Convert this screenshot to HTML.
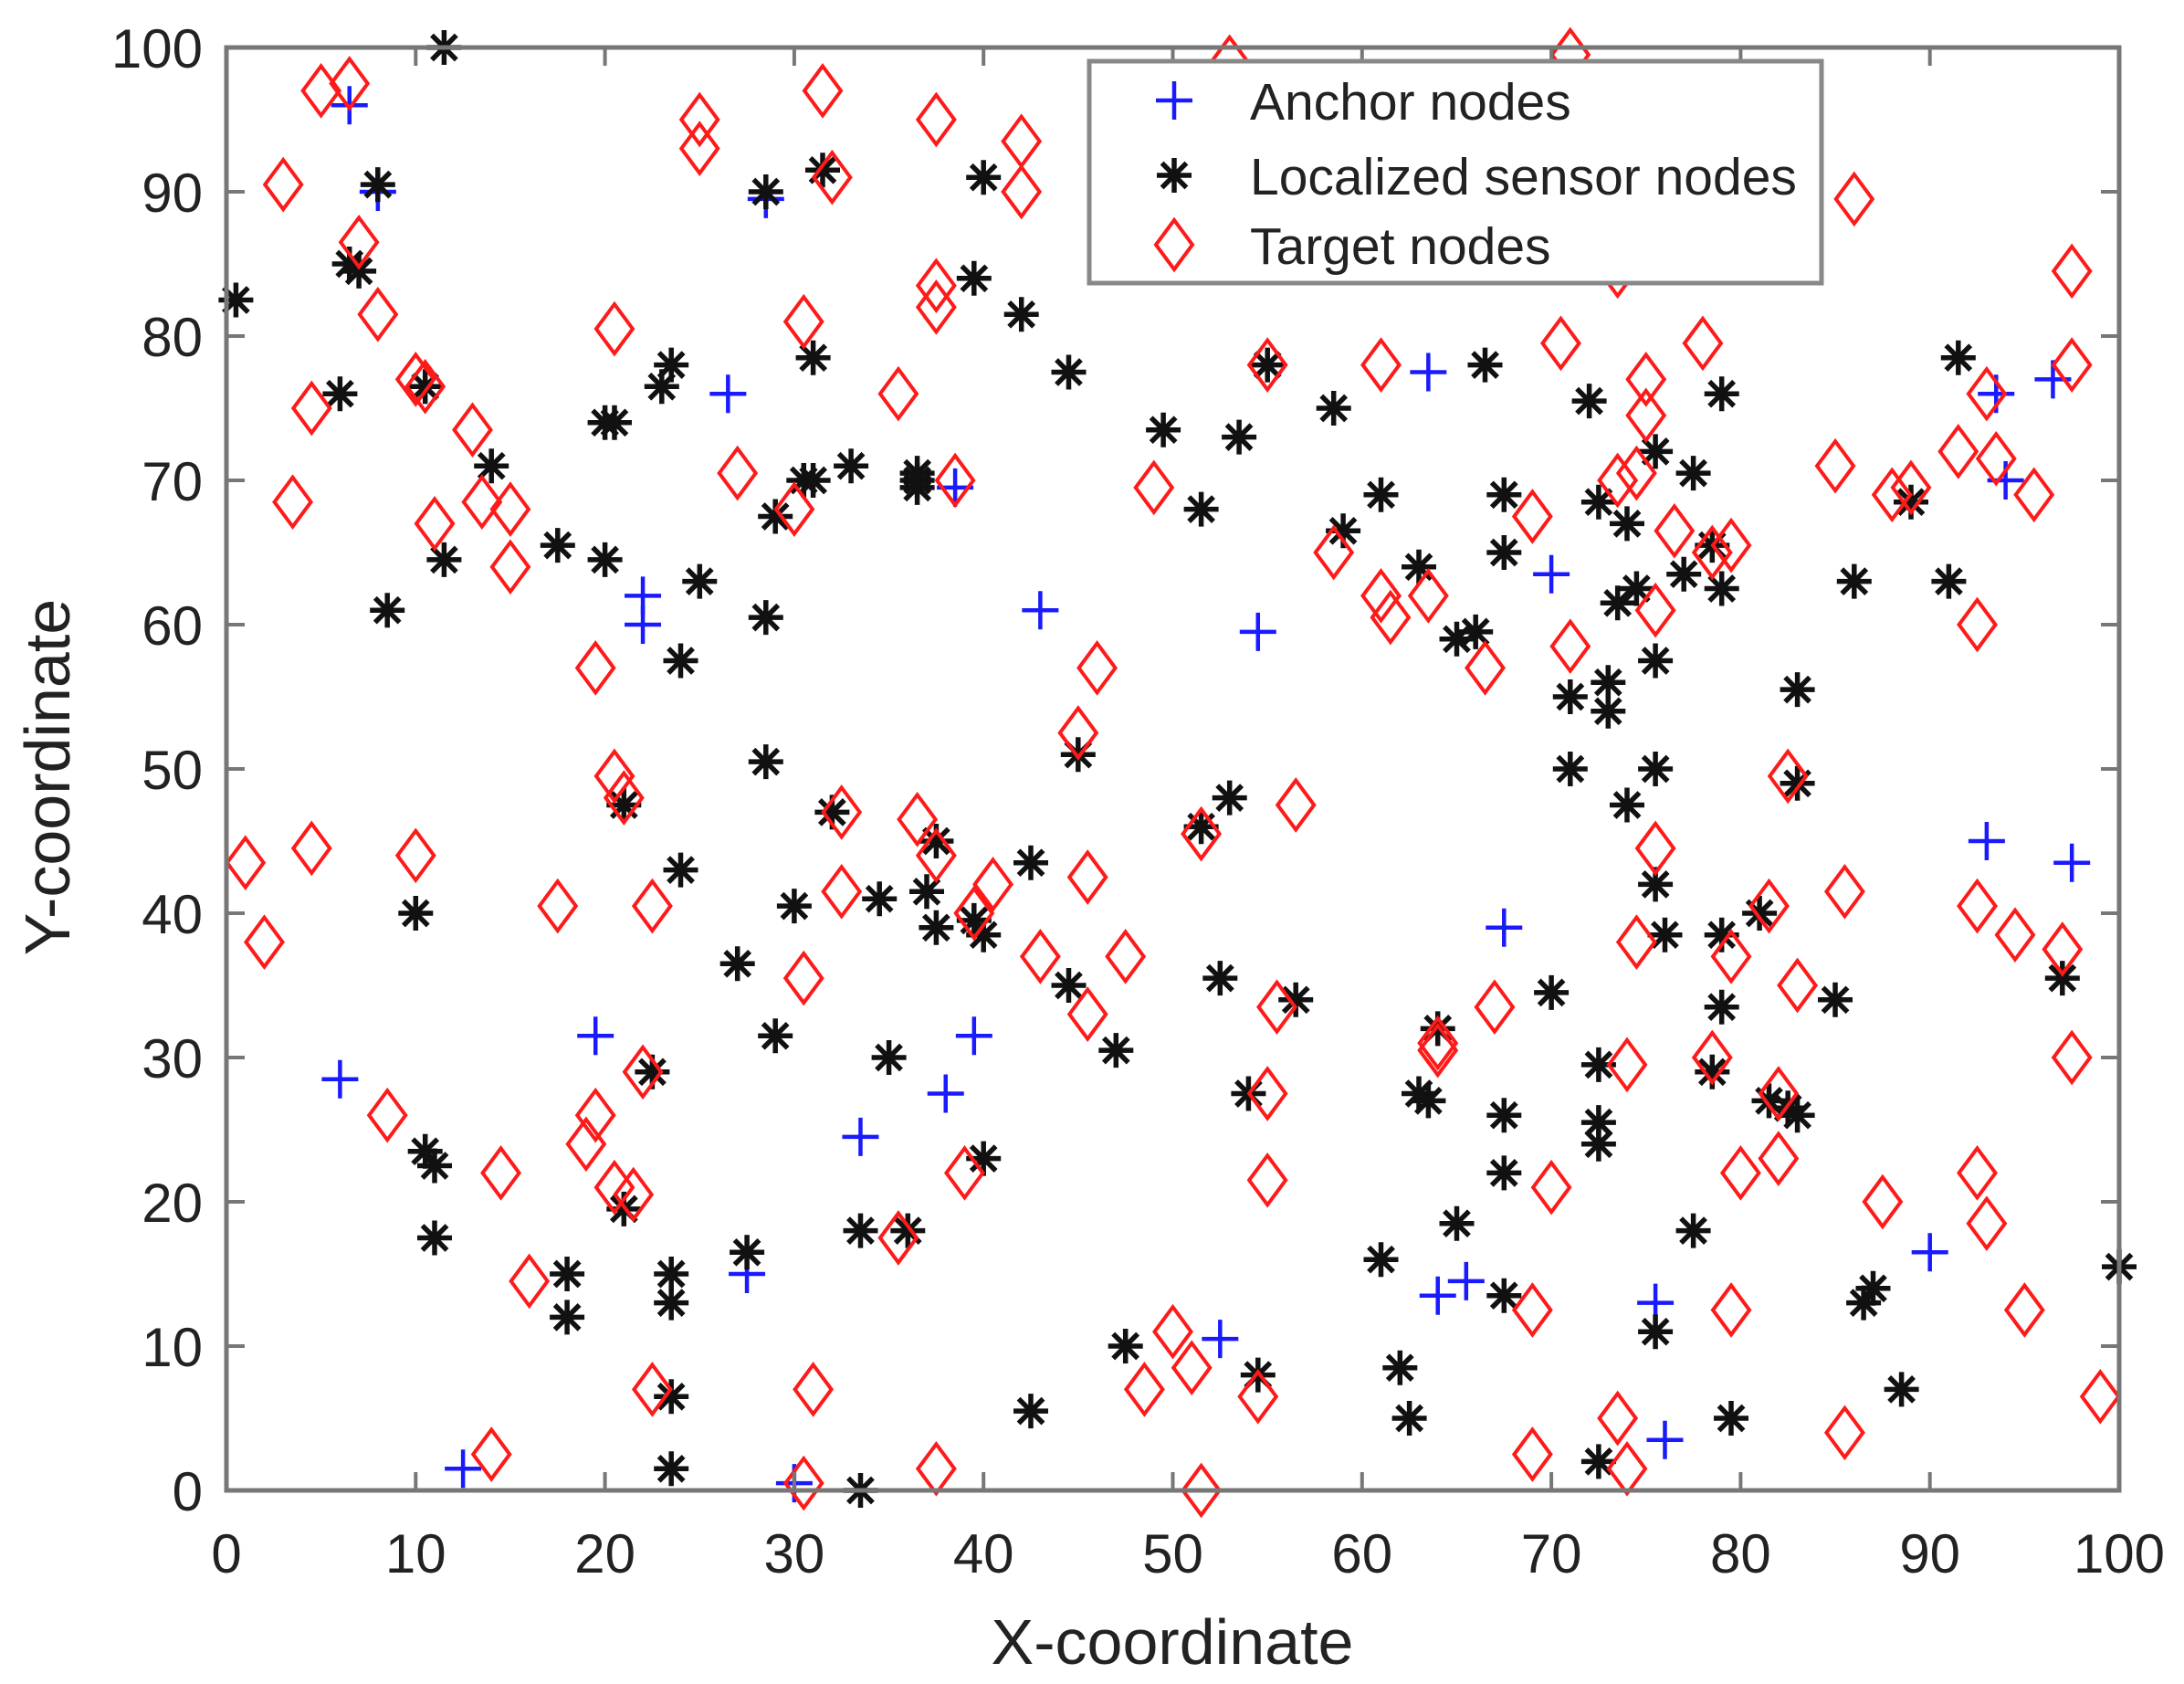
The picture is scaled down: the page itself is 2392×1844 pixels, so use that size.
<!DOCTYPE html>
<html><head><meta charset="utf-8"><style>
html,body{margin:0;padding:0;background:#fff;}
svg{display:block;}
text{font-family:"Liberation Sans",Arial,sans-serif;fill:#222;}
</style></head><body>
<svg id="s" width="2392" height="1844" viewBox="0 0 2392 1844" xmlns="http://www.w3.org/2000/svg">
<rect width="2392" height="1844" fill="#fff"/>
<g id="pts"></g>
<g id="axes"></g>
</svg>
<script>
function X(x){return 248+20.73*x;}
function Y(y){return 1632-15.8*y;}
var pts=document.getElementById('pts'), ax=document.getElementById('axes');
var html='';
function plus(cx,cy){return '<path d="M'+(cx-20)+' '+cy+'H'+(cx+20)+'M'+cx+' '+(cy-21)+'V'+(cy+21)+'" stroke="#1a1aff" stroke-width="4.5" fill="none"/>';}
function star(cx,cy){var s='',r=19;for(var i=0;i<4;i++){var a=i*Math.PI/4;var dx=r*Math.cos(a),dy=r*Math.sin(a);s+='M'+(cx-dx).toFixed(1)+' '+(cy-dy).toFixed(1)+'L'+(cx+dx).toFixed(1)+' '+(cy+dy).toFixed(1);}return '<path d="'+s+'" stroke="#111" stroke-width="5.5" fill="none"/>';}
function dia(cx,cy){return '<path d="M'+cx+' '+(cy-27)+'L'+(cx+20)+' '+cy+'L'+cx+' '+(cy+27)+'L'+(cx-20)+' '+cy+'Z" stroke="#ff1a1a" stroke-width="4" fill="none"/>';}
var A=[[6.5,96],[8,90],[28.5,89.5],[26.5,76],[22,62],[22,60],[38.5,69.5],[43,61],[54.5,59.5],[63.5,77.5],[70,63.5],[93.5,76],[96.5,77],[94,70],[93,45],[97.5,43.5],[67.5,39],[6,28.5],[19.5,31.5],[39.5,31.5],[38,27.5],[33.5,24.5],[27.5,15],[30,0.5],[12.5,1.5],[52.5,10.5],[64,13.5],[65.5,14.5],[75.5,13],[76,3.5],[90,16.5]];
var S=[[11.5,100],[0.5,82.5],[6.5,85],[7,84.5],[8,90.5],[6,76],[10.5,76.5],[14,71],[11.5,64.5],[8.5,61],[17.5,65.5],[20,74],[20.5,74],[20,64.5],[23,76.5],[23.5,78],[25,63],[24,57.5],[28.5,90],[31.5,91.5],[31,78.5],[30.5,70],[31,70],[33,71],[29,67.5],[28.5,60.5],[36.5,70.5],[36.5,69.5],[39.5,84],[40,91],[42,81.5],[44.5,77.5],[49.5,73.5],[51.5,68],[53.5,73],[55,78],[58.5,75],[59,66.5],[61,69],[63,64],[65,59],[66,59.5],[66.5,78],[67.5,69],[67.5,65],[72,75.5],[72.5,68.5],[74,67],[73.5,61.5],[74.5,62.5],[75.5,57.5],[75.5,72],[77.5,70.5],[77,63.5],[78.5,65.5],[79,62.5],[79,76],[71,55],[73,56],[73,54],[71,50],[74,47.5],[75.5,50],[75.5,42],[76,38.5],[83,55.5],[83,49],[81,40],[79,38.5],[79,33.5],[78.5,29],[81.5,27],[82.5,26.5],[83,26],[85,34],[91.5,78.5],[89,68.5],[91,63],[86,63],[97,35.5],[100,15.5],[86.5,13],[87,14],[88.5,7],[79.5,5],[77.5,18],[75.5,11],[72.5,2],[72.5,25.5],[72.5,24],[72.5,29.5],[70,34.5],[67.5,26],[67.5,22],[67.5,13.5],[65,18.5],[63,27.5],[63.5,27],[64,32],[62,8.5],[62.5,5],[61,16],[56.5,34],[54,27.5],[52.5,35.5],[53,48],[51.5,46],[54.5,8],[47.5,10],[47,30.5],[44.5,35],[45,51],[42.5,43.5],[42.5,5.5],[40,23],[40,38.5],[39.5,39.5],[37.5,45],[37,41.5],[37.5,39],[34.5,41],[35,30],[33.5,18],[36,18],[33.5,0],[29,31.5],[30,40.5],[32,47],[28.5,50.5],[27,36.5],[27.5,16.5],[23.5,1.5],[23.5,6.5],[23.5,13],[23.5,15],[24,43],[22.5,29],[21,19.5],[21,47.5],[18,15],[18,12],[10.5,23.5],[11,22.5],[11,17.5],[10,40],[36.5,70]];
var D=[[5,97],[6.5,97.5],[3,90.5],[7,86.5],[8,81.5],[10,77],[10.5,76.5],[4.5,75],[3.5,68.5],[11,67],[13,73.5],[13.5,68.5],[15,68],[15,64],[19.5,57],[20.5,80.5],[25,95],[25,93],[27,70.5],[30,68],[30.5,81],[31.5,97],[32,91],[35.5,76],[37.5,95],[37.5,82],[37.5,83.5],[38.5,70],[42,93.5],[42,90],[53,99],[49,69.5],[46,57],[45,52.5],[55,78],[58.5,65],[61,78],[61,62],[61.5,60.5],[63.5,62],[66.5,57],[69,67.5],[70.5,79.5],[71,99.5],[71,58.5],[73.5,84.5],[73.5,70],[74.5,70.5],[75,77],[75,74.5],[75.5,61],[76.5,66.5],[78,79.5],[78.5,65],[79.5,65.5],[85,71],[86,89.5],[88,69],[89,69.5],[91.5,72],[93,76],[93.5,71.5],[95.5,69],[92.5,60],[97.5,84.5],[97.5,78],[1,43.5],[2,38],[4.5,44.5],[10,44],[17.5,40.5],[20.5,49.5],[21,48],[22.5,40.5],[30.5,35.5],[32.5,47],[32.5,41.5],[36.5,46.5],[37.5,44],[39.5,40],[40.5,42],[43,37],[45.5,42.5],[47.5,37],[45.5,33],[51.5,45.5],[55.5,33.5],[56.5,47.5],[55,27.5],[55,21.5],[64,30.5],[64,31],[67,33.5],[69,12.5],[70,21],[74,29.5],[74.5,38],[75.5,44.5],[78.5,30],[79.5,37],[80,22],[79.5,12.5],[81.5,40.5],[82.5,49.5],[82,27.5],[82,23],[83,35],[85.5,41.5],[87.5,20],[85.5,4],[92.5,40.5],[92.5,22],[93,18.5],[94.5,38.5],[95,12.5],[97,37.5],[97.5,30],[99,6.5],[8.5,26],[14.5,22],[16,14.5],[19,24],[19.5,26],[20.5,21],[21.5,20.5],[22,29],[22.5,7],[14,2.5],[30.5,0.5],[31,7],[35.5,17.5],[39,22],[37.5,1.5],[48.5,7],[50,11],[51,8.5],[51.5,0],[54.5,6.5],[69,2.5],[73.5,5],[74,1.5]];
A.forEach(function(p){html+=plus(X(p[0]),Y(p[1]));});
S.forEach(function(p){html+=star(X(p[0]),Y(p[1]));});
D.forEach(function(p){html+=dia(X(p[0]),Y(p[1]));});
pts.innerHTML=html;
var a='';
a+='<rect x="'+X(0)+'" y="'+Y(100)+'" width="'+(X(100)-X(0))+'" height="'+(Y(0)-Y(100))+'" fill="none" stroke="#777" stroke-width="5"/>';
for(var i=0;i<=10;i++){var v=i*10;
 a+='<path d="M'+X(v)+' '+Y(0)+'v-20M'+X(v)+' '+Y(100)+'v20M'+X(0)+' '+Y(v)+'h20M'+X(100)+' '+Y(v)+'h-20" stroke="#777" stroke-width="4"/>';
 a+='<text x="'+X(v)+'" y="1722" font-size="60" text-anchor="middle">'+v+'</text>';
 a+='<text x="222" y="'+(Y(v)+22)+'" font-size="60" text-anchor="end">'+v+'</text>';
}
a+='<text x="1284" y="1822" font-size="70" text-anchor="middle">X-coordinate</text>';
a+='<text transform="translate(76,851) rotate(-90)" font-size="70" text-anchor="middle">Y-coordinate</text>';
a+='<rect x="1193" y="67" width="802" height="243" fill="#fff" stroke="#888" stroke-width="5"/>';
a+=plus(1286,110)+star(1286,192)+dia(1286,268);
a+='<text x="1369" y="131" font-size="57">Anchor nodes</text>';
a+='<text x="1369" y="213" font-size="57">Localized sensor nodes</text>';
a+='<text x="1369" y="289" font-size="57">Target nodes</text>';
ax.innerHTML=a;
</script>
</body></html>
